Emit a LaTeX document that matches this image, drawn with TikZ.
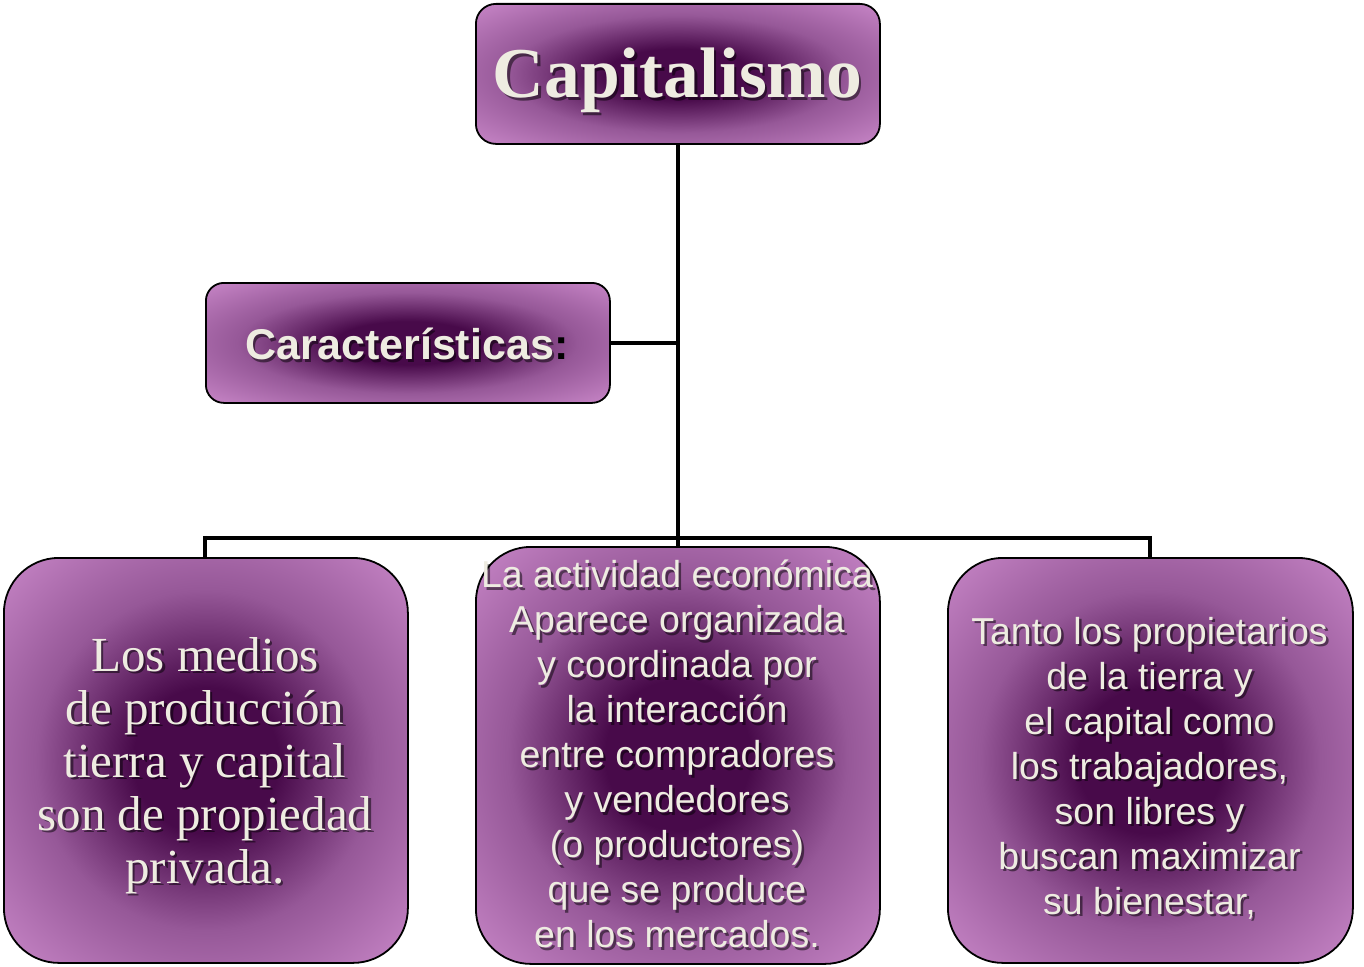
\documentclass[tikz,border=0pt]{standalone}
\usepackage{fontspec}
\setmainfont{Liberation Serif}
\setsansfont{Liberation Sans}
\definecolor{pdark}{RGB}{72,10,74}
\definecolor{pmid}{RGB}{150,88,152}
\definecolor{plight}{RGB}{191,126,191}
\definecolor{txtlight}{RGB}{238,236,225}
\pgfdeclareradialshading{purpglow}{\pgfpoint{0bp}{0bp}}{color(0bp)=(pdark); color(9bp)=(pdark); color(21bp)=(pmid); color(33bp)=(plight); color(50bp)=(plight)}
\tikzset{
  box/.style={draw=black, line width=1.8pt, shading=purpglow, inner sep=0pt, anchor=north west},
  conn/.style={draw=black, line width=4.2pt},
  txt/.style={text=txtlight, inner sep=0pt, align=center},
  shd/.style={text=black, text opacity=0.5, inner sep=0pt, align=center},
  serifbig/.style={font=\fontsize{49}{53}\selectfont},
  sansmid/.style={font=\sffamily\fontsize{37.5}{45}\selectfont},
  sansright/.style={font=\sffamily\fontsize{37.5}{45}\selectfont},
}
\begin{document}
\begin{tikzpicture}[x=1pt,y=-1pt]
\useasboundingbox (0,0) rectangle (1364,966);
% boxes
\node[box, rounded corners=20pt, minimum width=404pt, minimum height=140pt] (top) at (475,3) {};
\node[box, rounded corners=18pt, minimum width=404pt, minimum height=120pt] (car) at (205,282) {};
\node[box, rounded corners=55pt, minimum width=404pt, minimum height=405pt] (left) at (3,557) {};
\node[box, rounded corners=55pt, minimum width=404pt, minimum height=417pt] (mid) at (475,546) {};
\node[box, rounded corners=55pt, minimum width=405pt, minimum height=405pt] (right) at (947,557) {};
% connectors
\coordinate (hub) at (677.5,538);
\coordinate (hl) at (205,538);
\coordinate (hr) at (1150,538);
\draw[conn] (top.south) -- (mid.north);
\draw[conn] (car.east) -- (car.east -| hub);
\draw[conn] (hl) -- (hr);
\draw[conn] ([yshift=2.1pt]hl) -- (left.north -| hl);
\draw[conn] ([yshift=2.1pt]hr) -- (right.north -| hr);
% texts: shadows
\node[shd, anchor=base, font=\bfseries\fontsize{71.5}{75}\selectfont] (ts1) at (680,100) {Capitalismo};
\node[shd, anchor=base, font=\sffamily\bfseries\fontsize{43}{46}\selectfont] (ts2) at (409,362) {Características\phantom{:}};
\node[shd, serifbig] (ts3) at (207.5,768) {Los medios\\de producción\\tierra y capital\\son de propiedad\\privada.};
\node[shd, sansmid] (ts4) at (679.5,756.5) {La actividad económica\\Aparece organizada\\y coordinada por\\la interacción\\entre compradores\\y vendedores\\(o productores)\\que se produce\\en los mercados.};
\node[shd, sansright] (ts5) at (1152,770.5) {Tanto los propietarios\\de la tierra y\\el capital como\\los trabajadores,\\son libres y\\buscan maximizar\\su bienestar,};
% texts
\node[txt, anchor=base, font=\bfseries\fontsize{71.5}{75}\selectfont] (t1) at (677.5,97.5) {Capitalismo};
\node[txt, anchor=base, font=\sffamily\bfseries\fontsize{43}{46}\selectfont] (t2) at (407,359.5) {Características\textcolor{black}{:}};
\node[txt, serifbig] (t3) at (205,765.5) {Los medios\\de producción\\tierra y capital\\son de propiedad\\privada.};
\node[txt, sansmid] (t4) at (677,754) {La actividad económica\\Aparece organizada\\y coordinada por\\la interacción\\entre compradores\\y vendedores\\(o productores)\\que se produce\\en los mercados.};
\node[txt, sansright] (t5) at (1149.5,768) {Tanto los propietarios\\de la tierra y\\el capital como\\los trabajadores,\\son libres y\\buscan maximizar\\su bienestar,};
\end{tikzpicture}
\end{document}
